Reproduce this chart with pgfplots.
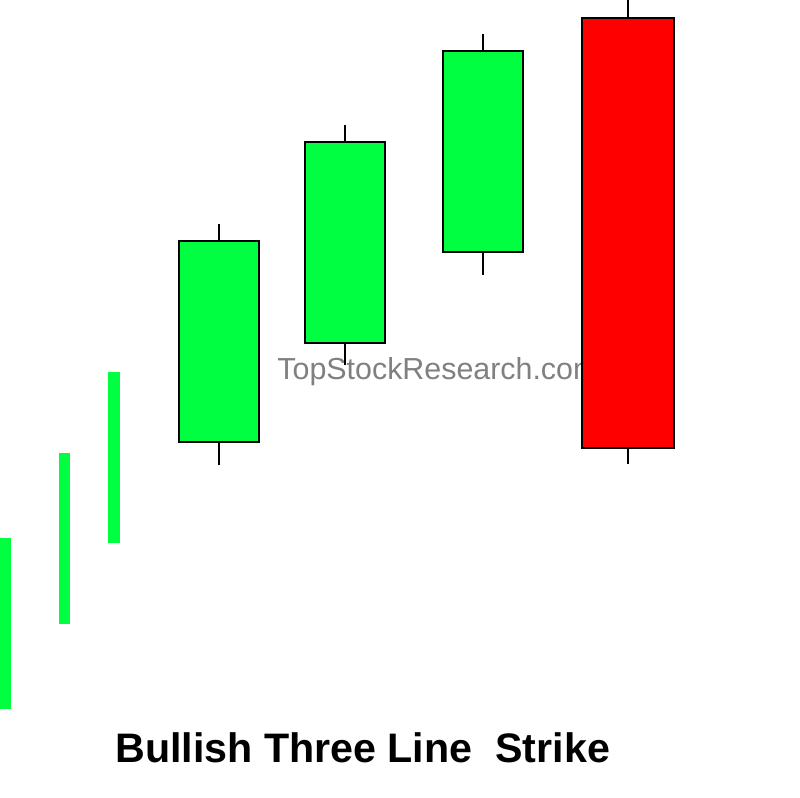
\documentclass[border=0pt]{standalone}
\usepackage{pgfplots}
\pgfplotsset{compat=1.18}
\usepackage{fontspec}
\setmainfont{Liberation Sans}
\definecolor{bullgreen}{RGB}{0,255,64}
\definecolor{bearred}{RGB}{255,0,0}
\definecolor{wmgray}{RGB}{128,128,128}
\begin{document}
\begin{tikzpicture}
\begin{axis}[
  width=400pt, height=399pt, scale only axis,
  xmin=0, xmax=800, ymin=0, ymax=798,
  hide axis, clip=false,
]
\path[use as bounding box] (rel axis cs:0,0) rectangle (rel axis cs:1,1);
% watermark
\node[anchor=base west, text=wmgray, font=\fontsize{15.2}{18}\selectfont, inner sep=0pt] at (axis cs:277,418) {TopStockResearch.com};
% thin prior bars
\addplot[fill=bullgreen, draw=none] coordinates {(0,89) (11,89) (11,260) (0,260)} --cycle;
\addplot[fill=bullgreen, draw=none] coordinates {(59,174) (70,174) (70,345) (59,345)} --cycle;
\addplot[fill=bullgreen, draw=none] coordinates {(108,255) (120,255) (120,426) (108,426)} --cycle;
% candle 1
\addplot[black, line width=0.8pt] coordinates {(219,333) (219,574)};
\addplot[fill=bullgreen, draw=black, line width=0.7pt] coordinates {(179,356) (259,356) (259,557) (179,557)} --cycle;
% candle 2
\addplot[black, line width=0.8pt] coordinates {(345,433) (345,673)};
\addplot[fill=bullgreen, draw=black, line width=0.7pt] coordinates {(305,455) (385,455) (385,656) (305,656)} --cycle;
% candle 3
\addplot[black, line width=0.8pt] coordinates {(483,523) (483,764)};
\addplot[fill=bullgreen, draw=black, line width=0.7pt] coordinates {(443,546) (523,546) (523,747) (443,747)} --cycle;
% candle 4 (red)
\addplot[black, line width=0.8pt] coordinates {(628,334) (628,798)};
\addplot[fill=bearred, draw=black, line width=0.7pt] coordinates {(582,350) (674,350) (674,780) (582,780)} --cycle;
% title
\node[anchor=base west, font=\bfseries\fontsize{20.6}{24}\selectfont, inner sep=0pt] at (axis cs:115,35) {Bullish Three Line~~Strike};
\end{axis}
\end{tikzpicture}
\end{document}
